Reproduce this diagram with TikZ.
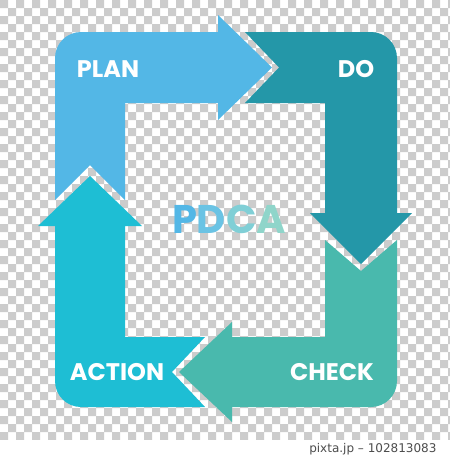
\documentclass[tikz,border=0pt]{standalone}
\usepackage{fontspec}
\newfontfamily\labelfont{Poppins}
\newfontfamily\creditfont{DejaVu Sans}

\definecolor{plancol}{HTML}{53B7E6}
\definecolor{docol}{HTML}{2497A8}
\definecolor{checkcol}{HTML}{49B9AD}
\definecolor{actioncol}{HTML}{1EBED4}
\definecolor{checkergray}{HTML}{CCCCCC}

\tikzset{
	checker/.style={fill=checkergray},
	step label/.style={text=white, inner sep=0pt, font=\labelfont\bfseries\fontsize{18}{18}\selectfont},
	title label/.style={inner sep=0pt, font=\labelfont\bfseries\fontsize{30}{30}\selectfont},
	credit label/.style={text=black!70, inner sep=0pt, font=\creditfont\fontsize{9}{9}\selectfont}}
\tikzset{every picture/.style={line width=0.75pt}}

\begin{document}
\begin{tikzpicture}[x=0.75pt,y=0.75pt,yscale=-1,xscale=1]
	\useasboundingbox (0,0) rectangle (450,458);
	\fill[white] (0,0) rectangle (450,458);

	%Checkerboard
	\begin{scope}
		\clip (0,0) rectangle (450,439);
		\foreach \cx in {0,16,...,448} {
			\foreach \cy in {0,16,...,432} {
				\fill[checker] (\cx,\cy) rectangle ++(8,8) (\cx+8,\cy+8) rectangle ++(8,8);
			}
		}
	\end{scope}

	%Shape: PLAN arrow
	\fill[plancol] (55,200) -- (90,165) -- (125,200) -- (125,103) -- (218,103) -- (218,120) -- (272,67.5) -- (218,15) -- (218,32) -- (81,32) arc[start angle=270, end angle=180, radius=26] -- cycle ;
	%Shape: DO arrow
	\fill[docol] (245,32) -- (279,67.5) -- (245,103) -- (325,103) -- (325,213) -- (310,213) -- (361,264) -- (412,213) -- (397,213) -- (397,58) arc[start angle=0, end angle=-90, radius=26] -- cycle ;
	%Shape: CHECK arrow
	\fill[checkcol] (397,240) -- (361,271) -- (325,240) -- (325,337) -- (232,337) -- (232,322) -- (179,372) -- (232,422) -- (232,407) -- (371,407) arc[start angle=90, end angle=0, radius=26] -- cycle ;
	%Shape: ACTION arrow
	\fill[actioncol] (205,407) -- (172,372) -- (205,337) -- (125,337) -- (125,226) -- (142,226) -- (90,176) -- (38,226) -- (55,226) -- (55,381) arc[start angle=180, end angle=90, radius=26] -- cycle ;

	% Text Node
	\node[step label] (plan) at (108,69) {PLAN};
	% Text Node
	\node[step label] (do) at (356,69) {DO};
	% Text Node
	\node[step label] (check) at (332,372) {CHECK};
	% Text Node
	\node[step label] (action) at (117,372) {ACTION};
	% Text Node
	\node[title label] (pdca) at (229,219) {\textcolor{plancol}{P}\textcolor[HTML]{6AC3E4}{D}\textcolor[HTML]{80CFD6}{C}\textcolor[HTML]{8FD5CA}{A}};
	% Text Node
	\node[credit label, anchor=east] (credit) at (437,449) {pixta.jp – 102813083};

\end{tikzpicture}
\end{document}
